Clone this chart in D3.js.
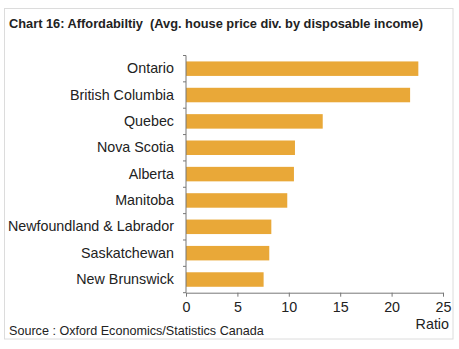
<!DOCTYPE html>
<html><head><meta charset="utf-8">
<script src="https://cdn.jsdelivr.net/npm/d3@7"></script>
<style>body{margin:0;background:#fff;}svg{display:block;font-family:"Liberation Sans",Arial,sans-serif;}</style>
</head><body>
<svg id="c" width="459" height="349"></svg>
<script>
const categories = ["Ontario","British Columbia","Quebec","Nova Scotia","Alberta","Manitoba","Newfoundland & Labrador","Saskatchewan","New Brunswick"];
const values = [22.6, 21.8, 13.3, 10.6, 10.5, 9.85, 8.3, 8.1, 7.55];
const xTicks = [0,5,10,15,20,25];
const title = "Chart 16: Affordabiltiy  (Avg. house price div. by disposable income)";
const source = "Source : Oxford Economics/Statistics Canada";
const xLabel = "Ratio";

const svg = d3.select("#c");
svg.append("rect").attr("x",4.5).attr("y",8.5).attr("width",448.5).attr("height",330.5)
  .attr("fill","#fff").attr("stroke","#dcdcdc");
svg.append("text").attr("x",9).attr("y",28).attr("font-size",12.8).attr("font-weight","bold")
  .style("white-space","pre").attr("fill","#222").text(title);

const x = d3.scaleLinear().domain([0,25]).range([186,443]);
const y = d3.scaleBand().domain(categories).range([55.5,292.7]).paddingInner(0.45).paddingOuter(0.225);

svg.selectAll("rect.bar").data(categories).join("rect").attr("class","bar")
  .attr("x",x(0)).attr("y",d=>y(d)).attr("height",y.bandwidth())
  .attr("width",(d,i)=>x(values[i])-x(0)).attr("fill","#E9A838");

const yAxis = d3.axisLeft(y).tickSize(0).tickPadding(12);
const gy = svg.append("g").attr("transform",`translate(${x(0)},0)`).call(yAxis);
gy.select(".domain").remove();
gy.selectAll("text").attr("font-size",14.3).attr("fill","#222").attr("font-family","Liberation Sans, Arial, sans-serif");

const bounds = categories.map(d=>y(d)-y.step()*y.paddingInner()/2).concat([292.7]);
svg.selectAll("line.yt").data(bounds).join("line").attr("class","yt")
  .attr("x1",x(0)-3).attr("x2",x(0)).attr("y1",d=>d).attr("y2",d=>d).attr("stroke","#777");
svg.append("line").attr("x1",x(0)).attr("x2",x(0)).attr("y1",55.5).attr("y2",292.7).attr("stroke","#777");

const gx = svg.append("g").attr("transform","translate(0,292.7)")
  .call(d3.axisBottom(x).tickValues(xTicks).tickSize(4).tickSizeOuter(0).tickPadding(5));
gx.select(".domain").attr("stroke","#777");
gx.selectAll(".tick line").attr("stroke","#777");
gx.selectAll("text").attr("font-size",14.3).attr("fill","#222").attr("font-family","Liberation Sans, Arial, sans-serif");

svg.append("text").attr("x",449).attr("y",329).attr("text-anchor","end").attr("font-size",14.3).attr("fill","#222").text(xLabel);
svg.append("text").attr("x",9).attr("y",335).attr("font-size",12.6).attr("fill","#222").text(source);
</script>
</body></html>
